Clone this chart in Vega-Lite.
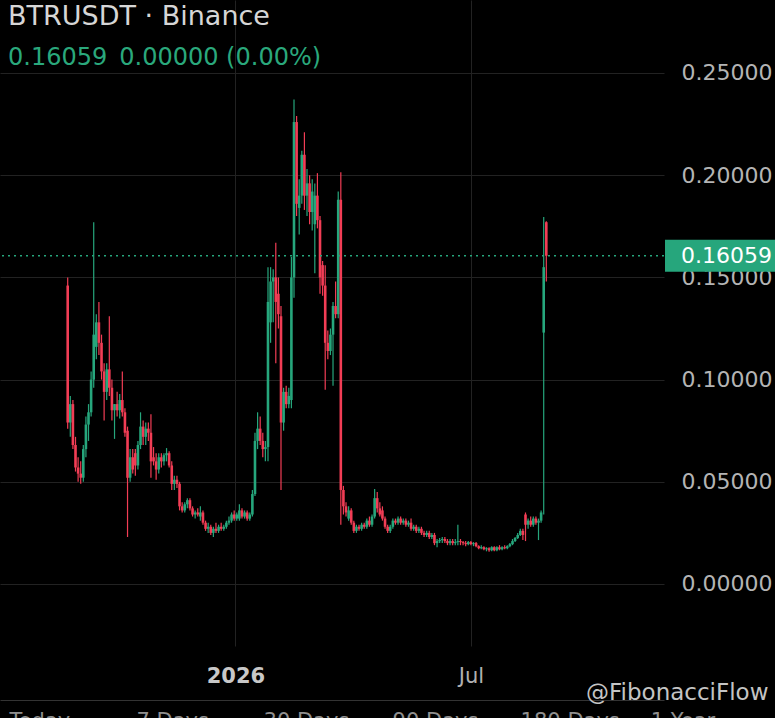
{
"$schema": "https://vega.github.io/schema/vega-lite/v6.json",
"autosize": {"type": "none"},
"padding": {"left": 0, "top": 0, "right": 111, "bottom": 72},
"width": 664,
"height": 646,
"background": "#000000",
"title": {"text": "BTRUSDT · Binance", "subtitle": "0.16059\u20020.00000 (0.00%)", "anchor": "start", "frame": "group", "orient": "top", "offset": -90, "dx": 8, "dy": -19, "font": "DejaVu Sans", "fontSize": 27, "fontWeight": "normal", "color": "#d6d6d6", "subtitleFont": "DejaVu Sans", "subtitleFontSize": 24, "subtitleColor": "#2aa87c", "subtitlePadding": 15},
"data": {"values": [
{"d":"2025-08-25","o":0.146,"h":0.150,"l":0.076,"c":0.079},
{"d":"2025-08-27","o":0.079,"h":0.092,"l":0.072,"c":0.088},
{"d":"2025-08-29","o":0.088,"h":0.090,"l":0.066,"c":0.068},
{"d":"2025-08-31","o":0.068,"h":0.072,"l":0.055,"c":0.057},
{"d":"2025-09-02","o":0.057,"h":0.062,"l":0.050,"c":0.054},
{"d":"2025-09-04","o":0.054,"h":0.060,"l":0.049,"c":0.052},
{"d":"2025-09-06","o":0.052,"h":0.068,"l":0.050,"c":0.066},
{"d":"2025-09-08","o":0.066,"h":0.082,"l":0.062,"c":0.078},
{"d":"2025-09-10","o":0.078,"h":0.088,"l":0.070,"c":0.084},
{"d":"2025-09-12","o":0.084,"h":0.104,"l":0.082,"c":0.100},
{"d":"2025-09-14","o":0.100,"h":0.177,"l":0.096,"c":0.122},
{"d":"2025-09-16","o":0.116,"h":0.132,"l":0.110,"c":0.128},
{"d":"2025-09-18","o":0.128,"h":0.138,"l":0.112,"c":0.118},
{"d":"2025-09-20","o":0.118,"h":0.122,"l":0.100,"c":0.104},
{"d":"2025-09-22","o":0.104,"h":0.108,"l":0.080,"c":0.094},
{"d":"2025-09-24","o":0.094,"h":0.108,"l":0.090,"c":0.105},
{"d":"2025-09-26","o":0.105,"h":0.131,"l":0.092,"c":0.096},
{"d":"2025-09-28","o":0.096,"h":0.100,"l":0.080,"c":0.085},
{"d":"2025-09-30","o":0.085,"h":0.088,"l":0.071,"c":0.088},
{"d":"2025-10-02","o":0.088,"h":0.094,"l":0.082,"c":0.085},
{"d":"2025-10-04","o":0.085,"h":0.093,"l":0.081,"c":0.090},
{"d":"2025-10-06","o":0.090,"h":0.104,"l":0.082,"c":0.084},
{"d":"2025-10-08","o":0.084,"h":0.086,"l":0.072,"c":0.074},
{"d":"2025-10-10","o":0.075,"h":0.077,"l":0.023,"c":0.052},
{"d":"2025-10-12","o":0.052,"h":0.066,"l":0.050,"c":0.062},
{"d":"2025-10-14","o":0.062,"h":0.066,"l":0.054,"c":0.056},
{"d":"2025-10-16","o":0.064,"h":0.066,"l":0.053,"c":0.058},
{"d":"2025-10-18","o":0.058,"h":0.070,"l":0.056,"c":0.068},
{"d":"2025-10-20","o":0.068,"h":0.084,"l":0.066,"c":0.077},
{"d":"2025-10-22","o":0.077,"h":0.080,"l":0.068,"c":0.072},
{"d":"2025-10-24","o":0.072,"h":0.079,"l":0.068,"c":0.076},
{"d":"2025-10-26","o":0.076,"h":0.079,"l":0.070,"c":0.074},
{"d":"2025-10-28","o":0.074,"h":0.083,"l":0.052,"c":0.060},
{"d":"2025-10-30","o":0.062,"h":0.067,"l":0.058,"c":0.060},
{"d":"2025-11-01","o":0.060,"h":0.064,"l":0.051,"c":0.056},
{"d":"2025-11-03","o":0.056,"h":0.064,"l":0.054,"c":0.062},
{"d":"2025-11-05","o":0.062,"h":0.064,"l":0.057,"c":0.060},
{"d":"2025-11-07","o":0.060,"h":0.064,"l":0.058,"c":0.063},
{"d":"2025-11-09","o":0.063,"h":0.0665,"l":0.060,"c":0.064},
{"d":"2025-11-11","o":0.064,"h":0.065,"l":0.057,"c":0.058},
{"d":"2025-11-13","o":0.058,"h":0.060,"l":0.046,"c":0.049},
{"d":"2025-11-15","o":0.049,"h":0.053,"l":0.046,"c":0.051},
{"d":"2025-11-17","o":0.051,"h":0.053,"l":0.047,"c":0.049},
{"d":"2025-11-19","o":0.049,"h":0.050,"l":0.036,"c":0.038},
{"d":"2025-11-21","o":0.038,"h":0.040,"l":0.035,"c":0.036},
{"d":"2025-11-23","o":0.036,"h":0.040,"l":0.035,"c":0.039},
{"d":"2025-11-25","o":0.039,"h":0.042,"l":0.037,"c":0.041},
{"d":"2025-11-27","o":0.041,"h":0.042,"l":0.036,"c":0.037},
{"d":"2025-11-29","o":0.037,"h":0.038,"l":0.033,"c":0.034},
{"d":"2025-12-01","o":0.034,"h":0.036,"l":0.032,"c":0.035},
{"d":"2025-12-03","o":0.035,"h":0.037,"l":0.033,"c":0.034},
{"d":"2025-12-05","o":0.033,"h":0.038,"l":0.031,"c":0.035},
{"d":"2025-12-07","o":0.035,"h":0.036,"l":0.029,"c":0.030},
{"d":"2025-12-09","o":0.030,"h":0.031,"l":0.026,"c":0.027},
{"d":"2025-12-11","o":0.027,"h":0.030,"l":0.025,"c":0.028},
{"d":"2025-12-13","o":0.028,"h":0.029,"l":0.024,"c":0.025},
{"d":"2025-12-15","o":0.025,"h":0.028,"l":0.023,"c":0.027},
{"d":"2025-12-17","o":0.027,"h":0.030,"l":0.025,"c":0.026},
{"d":"2025-12-19","o":0.026,"h":0.029,"l":0.025,"c":0.028},
{"d":"2025-12-21","o":0.028,"h":0.030,"l":0.026,"c":0.027},
{"d":"2025-12-23","o":0.027,"h":0.029,"l":0.026,"c":0.028},
{"d":"2025-12-25","o":0.028,"h":0.031,"l":0.027,"c":0.030},
{"d":"2025-12-27","o":0.030,"h":0.033,"l":0.029,"c":0.031},
{"d":"2025-12-29","o":0.031,"h":0.035,"l":0.030,"c":0.034},
{"d":"2025-12-31","o":0.034,"h":0.036,"l":0.031,"c":0.032},
{"d":"2026-01-02","o":0.032,"h":0.035,"l":0.031,"c":0.034},
{"d":"2026-01-04","o":0.032,"h":0.039,"l":0.031,"c":0.036},
{"d":"2026-01-06","o":0.036,"h":0.037,"l":0.032,"c":0.033},
{"d":"2026-01-08","o":0.033,"h":0.036,"l":0.032,"c":0.035},
{"d":"2026-01-10","o":0.035,"h":0.036,"l":0.031,"c":0.032},
{"d":"2026-01-12","o":0.032,"h":0.035,"l":0.031,"c":0.034},
{"d":"2026-01-14","o":0.034,"h":0.046,"l":0.033,"c":0.044},
{"d":"2026-01-16","o":0.044,"h":0.074,"l":0.043,"c":0.070},
{"d":"2026-01-18","o":0.070,"h":0.084,"l":0.066,"c":0.076},
{"d":"2026-01-20","o":0.076,"h":0.082,"l":0.068,"c":0.070},
{"d":"2026-01-22","o":0.070,"h":0.074,"l":0.062,"c":0.066},
{"d":"2026-01-24","o":0.066,"h":0.070,"l":0.060,"c":0.067},
{"d":"2026-01-26","o":0.067,"h":0.155,"l":0.060,"c":0.138},
{"d":"2026-01-28","o":0.128,"h":0.155,"l":0.118,"c":0.148},
{"d":"2026-01-30","o":0.148,"h":0.154,"l":0.128,"c":0.150},
{"d":"2026-02-01","o":0.150,"h":0.167,"l":0.108,"c":0.138},
{"d":"2026-02-03","o":0.142,"h":0.150,"l":0.125,"c":0.132},
{"d":"2026-02-05","o":0.131,"h":0.136,"l":0.046,"c":0.079},
{"d":"2026-02-07","o":0.079,"h":0.096,"l":0.075,"c":0.094},
{"d":"2026-02-09","o":0.094,"h":0.097,"l":0.086,"c":0.088},
{"d":"2026-02-11","o":0.088,"h":0.096,"l":0.086,"c":0.092},
{"d":"2026-02-13","o":0.090,"h":0.160,"l":0.086,"c":0.150},
{"d":"2026-02-15","o":0.150,"h":0.237,"l":0.140,"c":0.226},
{"d":"2026-02-17","o":0.226,"h":0.229,"l":0.180,"c":0.186},
{"d":"2026-02-19","o":0.184,"h":0.198,"l":0.171,"c":0.190},
{"d":"2026-02-21","o":0.190,"h":0.212,"l":0.186,"c":0.210},
{"d":"2026-02-23","o":0.210,"h":0.221,"l":0.183,"c":0.190},
{"d":"2026-02-25","o":0.190,"h":0.203,"l":0.180,"c":0.196},
{"d":"2026-02-27","o":0.196,"h":0.200,"l":0.176,"c":0.182},
{"d":"2026-03-01","o":0.182,"h":0.198,"l":0.173,"c":0.192},
{"d":"2026-03-03","o":0.176,"h":0.196,"l":0.152,"c":0.190},
{"d":"2026-03-05","o":0.190,"h":0.201,"l":0.174,"c":0.178},
{"d":"2026-03-07","o":0.178,"h":0.180,"l":0.142,"c":0.150},
{"d":"2026-03-09","o":0.156,"h":0.158,"l":0.141,"c":0.146},
{"d":"2026-03-11","o":0.146,"h":0.156,"l":0.095,"c":0.118},
{"d":"2026-03-13","o":0.118,"h":0.124,"l":0.110,"c":0.114},
{"d":"2026-03-15","o":0.114,"h":0.125,"l":0.112,"c":0.122},
{"d":"2026-03-17","o":0.122,"h":0.138,"l":0.097,"c":0.136},
{"d":"2026-03-19","o":0.136,"h":0.148,"l":0.130,"c":0.132},
{"d":"2026-03-21","o":0.132,"h":0.192,"l":0.130,"c":0.188},
{"d":"2026-03-23","o":0.188,"h":0.2015,"l":0.029,"c":0.046},
{"d":"2026-03-25","o":0.046,"h":0.048,"l":0.034,"c":0.038},
{"d":"2026-03-27","o":0.038,"h":0.040,"l":0.033,"c":0.035},
{"d":"2026-03-29","o":0.032,"h":0.038,"l":0.031,"c":0.036},
{"d":"2026-03-31","o":0.036,"h":0.037,"l":0.029,"c":0.030},
{"d":"2026-04-02","o":0.030,"h":0.031,"l":0.025,"c":0.026},
{"d":"2026-04-04","o":0.026,"h":0.029,"l":0.025,"c":0.028},
{"d":"2026-04-06","o":0.028,"h":0.029,"l":0.026,"c":0.027},
{"d":"2026-04-08","o":0.027,"h":0.030,"l":0.026,"c":0.029},
{"d":"2026-04-10","o":0.029,"h":0.030,"l":0.027,"c":0.028},
{"d":"2026-04-12","o":0.028,"h":0.032,"l":0.027,"c":0.031},
{"d":"2026-04-14","o":0.031,"h":0.033,"l":0.028,"c":0.029},
{"d":"2026-04-16","o":0.029,"h":0.034,"l":0.028,"c":0.033},
{"d":"2026-04-18","o":0.033,"h":0.0465,"l":0.032,"c":0.042},
{"d":"2026-04-20","o":0.042,"h":0.045,"l":0.035,"c":0.037},
{"d":"2026-04-22","o":0.037,"h":0.040,"l":0.033,"c":0.034},
{"d":"2026-04-24","o":0.036,"h":0.038,"l":0.031,"c":0.032},
{"d":"2026-04-26","o":0.032,"h":0.033,"l":0.027,"c":0.028},
{"d":"2026-04-28","o":0.028,"h":0.029,"l":0.025,"c":0.026},
{"d":"2026-04-30","o":0.026,"h":0.029,"l":0.025,"c":0.028},
{"d":"2026-05-02","o":0.028,"h":0.032,"l":0.027,"c":0.031},
{"d":"2026-05-04","o":0.031,"h":0.032,"l":0.029,"c":0.030},
{"d":"2026-05-06","o":0.030,"h":0.033,"l":0.029,"c":0.032},
{"d":"2026-05-08","o":0.032,"h":0.033,"l":0.029,"c":0.030},
{"d":"2026-05-10","o":0.030,"h":0.032,"l":0.029,"c":0.031},
{"d":"2026-05-12","o":0.031,"h":0.032,"l":0.028,"c":0.029},
{"d":"2026-05-14","o":0.029,"h":0.031,"l":0.028,"c":0.030},
{"d":"2026-05-16","o":0.030,"h":0.032,"l":0.026,"c":0.027},
{"d":"2026-05-18","o":0.027,"h":0.029,"l":0.026,"c":0.028},
{"d":"2026-05-20","o":0.028,"h":0.029,"l":0.025,"c":0.026},
{"d":"2026-05-22","o":0.026,"h":0.028,"l":0.025,"c":0.027},
{"d":"2026-05-24","o":0.027,"h":0.028,"l":0.024,"c":0.025},
{"d":"2026-05-26","o":0.025,"h":0.026,"l":0.023,"c":0.024},
{"d":"2026-05-28","o":0.024,"h":0.026,"l":0.023,"c":0.025},
{"d":"2026-05-30","o":0.025,"h":0.026,"l":0.022,"c":0.023},
{"d":"2026-06-01","o":0.023,"h":0.025,"l":0.022,"c":0.024},
{"d":"2026-06-03","o":0.024,"h":0.025,"l":0.019,"c":0.020},
{"d":"2026-06-05","o":0.020,"h":0.022,"l":0.018,"c":0.021},
{"d":"2026-06-07","o":0.021,"h":0.0225,"l":0.020,"c":0.0215},
{"d":"2026-06-09","o":0.0215,"h":0.023,"l":0.020,"c":0.022},
{"d":"2026-06-11","o":0.022,"h":0.023,"l":0.020,"c":0.021},
{"d":"2026-06-13","o":0.021,"h":0.022,"l":0.019,"c":0.020},
{"d":"2026-06-15","o":0.020,"h":0.022,"l":0.019,"c":0.021},
{"d":"2026-06-17","o":0.021,"h":0.022,"l":0.019,"c":0.020},
{"d":"2026-06-19","o":0.020,"h":0.022,"l":0.019,"c":0.0205},
{"d":"2026-06-21","o":0.0205,"h":0.029,"l":0.019,"c":0.021},
{"d":"2026-06-23","o":0.021,"h":0.022,"l":0.019,"c":0.0205},
{"d":"2026-06-25","o":0.0205,"h":0.021,"l":0.019,"c":0.020},
{"d":"2026-06-27","o":0.020,"h":0.021,"l":0.0185,"c":0.0195},
{"d":"2026-06-29","o":0.0195,"h":0.021,"l":0.019,"c":0.0205},
{"d":"2026-07-01","o":0.0205,"h":0.021,"l":0.019,"c":0.0195},
{"d":"2026-07-03","o":0.0195,"h":0.0205,"l":0.0185,"c":0.020},
{"d":"2026-07-05","o":0.020,"h":0.0205,"l":0.018,"c":0.0185},
{"d":"2026-07-07","o":0.0185,"h":0.019,"l":0.017,"c":0.0175},
{"d":"2026-07-09","o":0.0175,"h":0.019,"l":0.017,"c":0.018},
{"d":"2026-07-11","o":0.018,"h":0.0185,"l":0.0165,"c":0.017},
{"d":"2026-07-13","o":0.017,"h":0.018,"l":0.016,"c":0.0175},
{"d":"2026-07-15","o":0.0175,"h":0.018,"l":0.0158,"c":0.0165},
{"d":"2026-07-17","o":0.0165,"h":0.0185,"l":0.016,"c":0.018},
{"d":"2026-07-19","o":0.018,"h":0.0185,"l":0.016,"c":0.0165},
{"d":"2026-07-21","o":0.0165,"h":0.0185,"l":0.016,"c":0.018},
{"d":"2026-07-23","o":0.018,"h":0.019,"l":0.0165,"c":0.017},
{"d":"2026-07-25","o":0.017,"h":0.0185,"l":0.0165,"c":0.018},
{"d":"2026-07-27","o":0.018,"h":0.019,"l":0.017,"c":0.0175},
{"d":"2026-07-29","o":0.0175,"h":0.019,"l":0.017,"c":0.0185},
{"d":"2026-07-31","o":0.0185,"h":0.020,"l":0.018,"c":0.0195},
{"d":"2026-08-02","o":0.0195,"h":0.022,"l":0.019,"c":0.021},
{"d":"2026-08-04","o":0.021,"h":0.023,"l":0.0205,"c":0.0225},
{"d":"2026-08-06","o":0.0225,"h":0.025,"l":0.022,"c":0.024},
{"d":"2026-08-08","o":0.024,"h":0.027,"l":0.0235,"c":0.026},
{"d":"2026-08-10","o":0.026,"h":0.027,"l":0.0215,"c":0.024},
{"d":"2026-08-12","o":0.034,"h":0.035,"l":0.021,"c":0.029},
{"d":"2026-08-14","o":0.029,"h":0.032,"l":0.027,"c":0.031},
{"d":"2026-08-16","o":0.031,"h":0.033,"l":0.028,"c":0.029},
{"d":"2026-08-18","o":0.029,"h":0.033,"l":0.028,"c":0.032},
{"d":"2026-08-20","o":0.032,"h":0.033,"l":0.029,"c":0.030},
{"d":"2026-08-22","o":0.030,"h":0.032,"l":0.0215,"c":0.031},
{"d":"2026-08-24","o":0.031,"h":0.036,"l":0.030,"c":0.035},
{"d":"2026-08-26","o":0.123,"h":0.1795,"l":0.034,"c":0.155},
{"d":"2026-08-28","o":0.177,"h":0.1775,"l":0.148,"c":0.16059}
]},
"layer": [
{"mark": {"type": "rule", "strokeWidth": 1.2},
 "encoding": {
  "x": {"field": "d", "type": "temporal", "scale": {"type": "utc", "domain": [1751914340244, 1795361675620]},
        "axis": {"orient": "bottom", "offset": 54, "values": [1752176071180, 1760616893866, 1769057716566, 1777629404706, 1786135660126, 1794772781014],
                 "labelExpr": "datum.value < 1756000000000 ? 'Today' : datum.value < 1765000000000 ? '7 Days' : datum.value < 1773000000000 ? '30 Days' : datum.value < 1782000000000 ? '90 Days' : datum.value < 1790000000000 ? '180 Days' : '1 Year'",
                 "labelAlign": "left", "labelFontSize": 21, "labelColor": "#8f8f8f", "labelPadding": 10, "ticks": false, "tickSize": 0,
                 "domain": true, "domainColor": "#333333", "grid": false, "title": null, "labelFlush": false, "labelOverlap": false, "labelBound": false}},
  "y": {"field": "l", "type": "quantitative", "title": null, "scale": {"domain": [-0.030333, 0.285714], "nice": false, "zero": false},
        "axis": {"orient": "right", "values": [0, 0.05, 0.1, 0.15, 0.2, 0.25], "format": ".5f", "labelFontSize": 22, "labelColor": "#b4b4b4", "labelPadding": 17, "ticks": false, "tickSize": 0, "domain": false, "grid": true, "gridColor": "#222222", "title": null}},
  "y2": {"field": "h"},
  "color": {"condition": {"test": "datum.c >= datum.o", "value": "#26a67c"}, "value": "#f23d55"}
 }},
{"mark": {"type": "bar", "width": 2.6},
 "encoding": {
  "x": {"field": "d", "type": "temporal",
        "axis": {"orient": "bottom", "offset": 0, "values": [1767225600000, 1782864000000], "labelExpr": "datum.value < 1770000000000 ? '2026' : 'Jul'", "labelFontSize": 21,
                 "labelFontWeight": {"condition": {"test": "datum.value < 1770000000000", "value": "bold"}, "value": "normal"},
                 "labelColor": {"condition": {"test": "datum.value < 1770000000000", "value": "#c8c8c8"}, "value": "#b0b0b0"},
                 "labelPadding": 19, "ticks": false, "tickSize": 0, "domain": false, "grid": true, "gridColor": "#222222", "labelFlush": false,
                 "title": "@FibonacciFlow", "titleFontSize": 23, "titleFontWeight": "normal", "titleColor": "#c4c4c4", "titleAnchor": "end", "titleAlign": "right", "titleBaseline": "middle", "titleX": 768, "titleY": 46}},
  "y": {"field": "o", "type": "quantitative", "title": null},
  "y2": {"field": "c"},
  "color": {"condition": {"test": "datum.c >= datum.o", "value": "#26a67c"}, "value": "#f23d55"}
 }},
{"data": {"values": [{"price": 0.16059}]},
 "mark": {"type": "rule", "strokeDash": [2, 4], "strokeWidth": 1.5, "color": "#26a67c"},
 "encoding": {"y": {"field": "price", "type": "quantitative", "title": null}}},
{"data": {"values": [{"price": 0.16059}]},
 "mark": {"type": "tick", "orient": "horizontal", "x": {"expr": "width + 56"}, "size": 110, "thickness": 32, "color": "#26a67c", "opacity": 1},
 "encoding": {"y": {"field": "price", "type": "quantitative", "title": null}}},
{"data": {"values": [{"price": 0.16059}]},
 "mark": {"type": "text", "x": {"expr": "width + 17"}, "align": "left", "baseline": "middle", "fontSize": 22, "color": "#ffffff"},
 "encoding": {"y": {"field": "price", "type": "quantitative", "title": null}, "text": {"field": "price", "type": "quantitative", "format": ".5f"}}}
],
"resolve": {"axis": {"x": "independent"}},
"config": {"font": "DejaVu Sans", "view": {"stroke": null}, "axis": {"labelFont": "DejaVu Sans", "titleFont": "DejaVu Sans"}}
}
